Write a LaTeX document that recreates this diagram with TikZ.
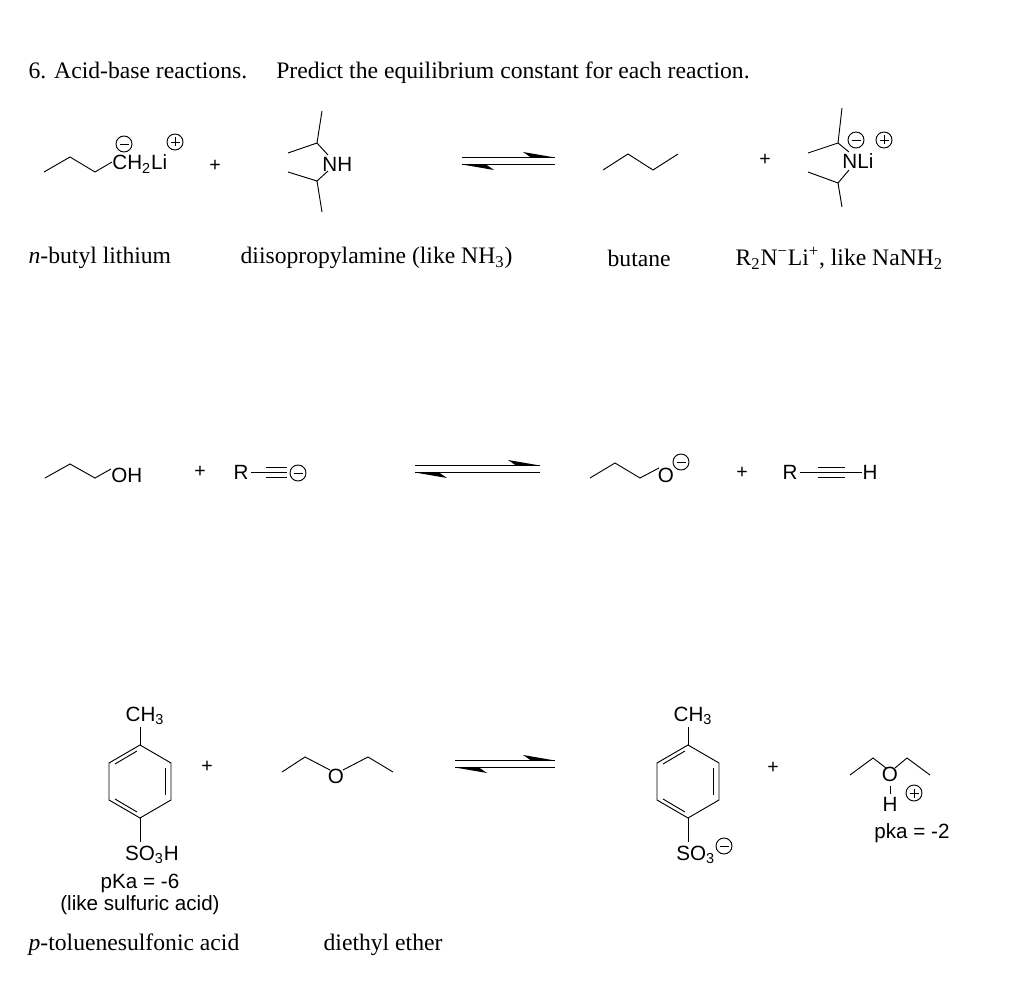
\documentclass[tikz,border=0pt]{standalone}
\usepackage{fontspec}
\setmainfont{Liberation Serif}
\setsansfont{Liberation Sans}
\begin{document}
\begin{tikzpicture}[x=0.75pt,y=-0.75pt,line width=0.7pt,
 lab/.style={font=\fontsize{13.3}{15}\selectfont,inner sep=0},
 atm/.style={font=\sffamily\fontsize{11.6}{13}\selectfont,inner sep=1pt},
 pl/.style={font=\sffamily\fontsize{11}{12}\selectfont,inner sep=0}]
\useasboundingbox (0,0) rectangle (1022,984);
\newcommand{\chm}[2]{\draw (#1,#2) circle (8); \draw (#1-4.5,#2)--(#1+4.5,#2);}
\newcommand{\chp}[2]{\draw (#1,#2) circle (8); \draw (#1-4.5,#2)--(#1+4.5,#2); \draw (#1,#2-4.5)--(#1,#2+4.5);}
\newcommand{\eqarr}[3]{\draw (#1,#3-3.5)--(#2,#3-3.5); \fill (#2,#3-3.5)--(#2-32,#3-9)--(#2-24,#3-3.5)--cycle; \draw (#1,#3+3.5)--(#2,#3+3.5); \fill (#1,#3+3.5)--(#1+32,#3+9)--(#1+24,#3+3.5)--cycle;}
\begin{scope}[every node/.append style={scale=1.333}]
\node[lab,anchor=west] (title) at (28,73) {6. Acid-base reactions.\hspace{0.9em} Predict the equilibrium constant for each reaction.};
% ---- row 1
\draw (44,172)--(70,157)--(95,172)--(112,162);
\node[atm,anchor=west] (ch2li) at (110,164) {CH\textsubscript{2}Li};
\chm{124}{144} \chp{175}{142}
\node[pl] (p1) at (215,166) {+};
\draw (288,153)--(317,143)--(322,111); \draw (317,143)--(328,155);
\draw (288,172)--(317,181)--(322,212); \draw (317,181)--(328,171);
\node[atm,anchor=west] (nh) at (320,164) {NH};
\eqarr{462}{555}{161}
\draw (603,170)--(628,154)--(653,170)--(678,154);
\node[pl] (p2) at (765,160) {+};
\draw (808,153)--(838,143)--(842,108); \draw (838,143)--(849,152);
\draw (808,172)--(838,183)--(842,207); \draw (838,183)--(849,170);
\node[atm,anchor=west] (nli) at (840,161) {NLi};
\chm{856}{140} \chp{884}{140}
\node[lab,anchor=west] at (28,258) {\textit{n}-butyl lithium};
\node[lab,anchor=west] at (240,258) {diisopropylamine (like NH\textsubscript{3})};
\node[lab,anchor=west] at (607,258) {butane};
\node[lab,anchor=west] at (735,258) {R\textsubscript{2}N\textsuperscript{−}Li\textsuperscript{+}, like NaNH\textsubscript{2}};
% ---- row 2
\draw (45,478)--(70,464)--(95,478)--(111,469);
\node[atm,anchor=west] (oh) at (109,475) {OH};
\node[pl] (p3) at (200,472) {+};
\node[atm] (r1) at (241,472) {R};
\draw (251,472)--(266,472);
\draw (266,467)--(287,467) (266,472)--(287,472) (266,477)--(287,477);
\chm{298}{473}
\eqarr{415}{540}{469}
\draw (590,478)--(615,463)--(640,478)--(659,468);
\node[atm] (o1) at (666,475) {O};
\chm{681}{462}
\node[pl] (p4) at (742,473) {+};
\node[atm] (r2) at (790,472) {R};
\draw (800,472)--(818,472);
\draw (818,467)--(845,467) (818,472)--(845,472) (818,477)--(845,477);
\draw (845,472)--(862,472);
\node[atm] (h1) at (870,472) {H};
% ---- row 3
\foreach \cx in {140,688} {
 \draw (\cx,745)--(\cx+31,763)--(\cx+31,800)--(\cx,818)--(\cx-31,800)--(\cx-31,763)--cycle;
 \draw (\cx-3,751)--(\cx-25,764);
 \draw (\cx+25,768)--(\cx+25,795);
 \draw (\cx-3,812)--(\cx-25,799);
 \draw (\cx,745)--(\cx,727);
 \draw (\cx,818)--(\cx,842);
}
\node[atm] (ch3a) at (145,716) {CH\textsubscript{3}};
\node[atm] (so3h) at (152,855) {SO\textsubscript{3}H};
\node[atm] (ch3b) at (693,716) {CH\textsubscript{3}};
\node[atm,anchor=west] (so3) at (674,855) {SO\textsubscript{3}};
\chm{724}{846}
\node[pl] (p5) at (207,767) {+};
\draw (282,772)--(305,757)--(330,770);
\draw (343,770)--(368,757)--(393,772);
\node[atm] (o2) at (336,776) {O};
\eqarr{455}{555}{764}
\node[pl] (p6) at (773,768) {+};
\draw (850,775)--(873,758)--(886,768);
\draw (895,768)--(907,758)--(930,775);
\node[atm] (o3) at (890,774) {O};
\draw (890,786)--(890,794);
\node[atm] (h2) at (890,804) {H};
\chp{914}{793}
\node[atm] (pka2) at (912,833) {pka = -2};
\node[atm] (pka1) at (140,883) {pKa = -6};
\node[atm] (like) at (140,905) {(like sulfuric acid)};
\node[lab,anchor=west] at (28,945) {\textit{p}-toluenesulfonic acid};
\node[lab,anchor=west] at (323,945) {diethyl ether};
\end{scope}
\end{tikzpicture}
\end{document}
